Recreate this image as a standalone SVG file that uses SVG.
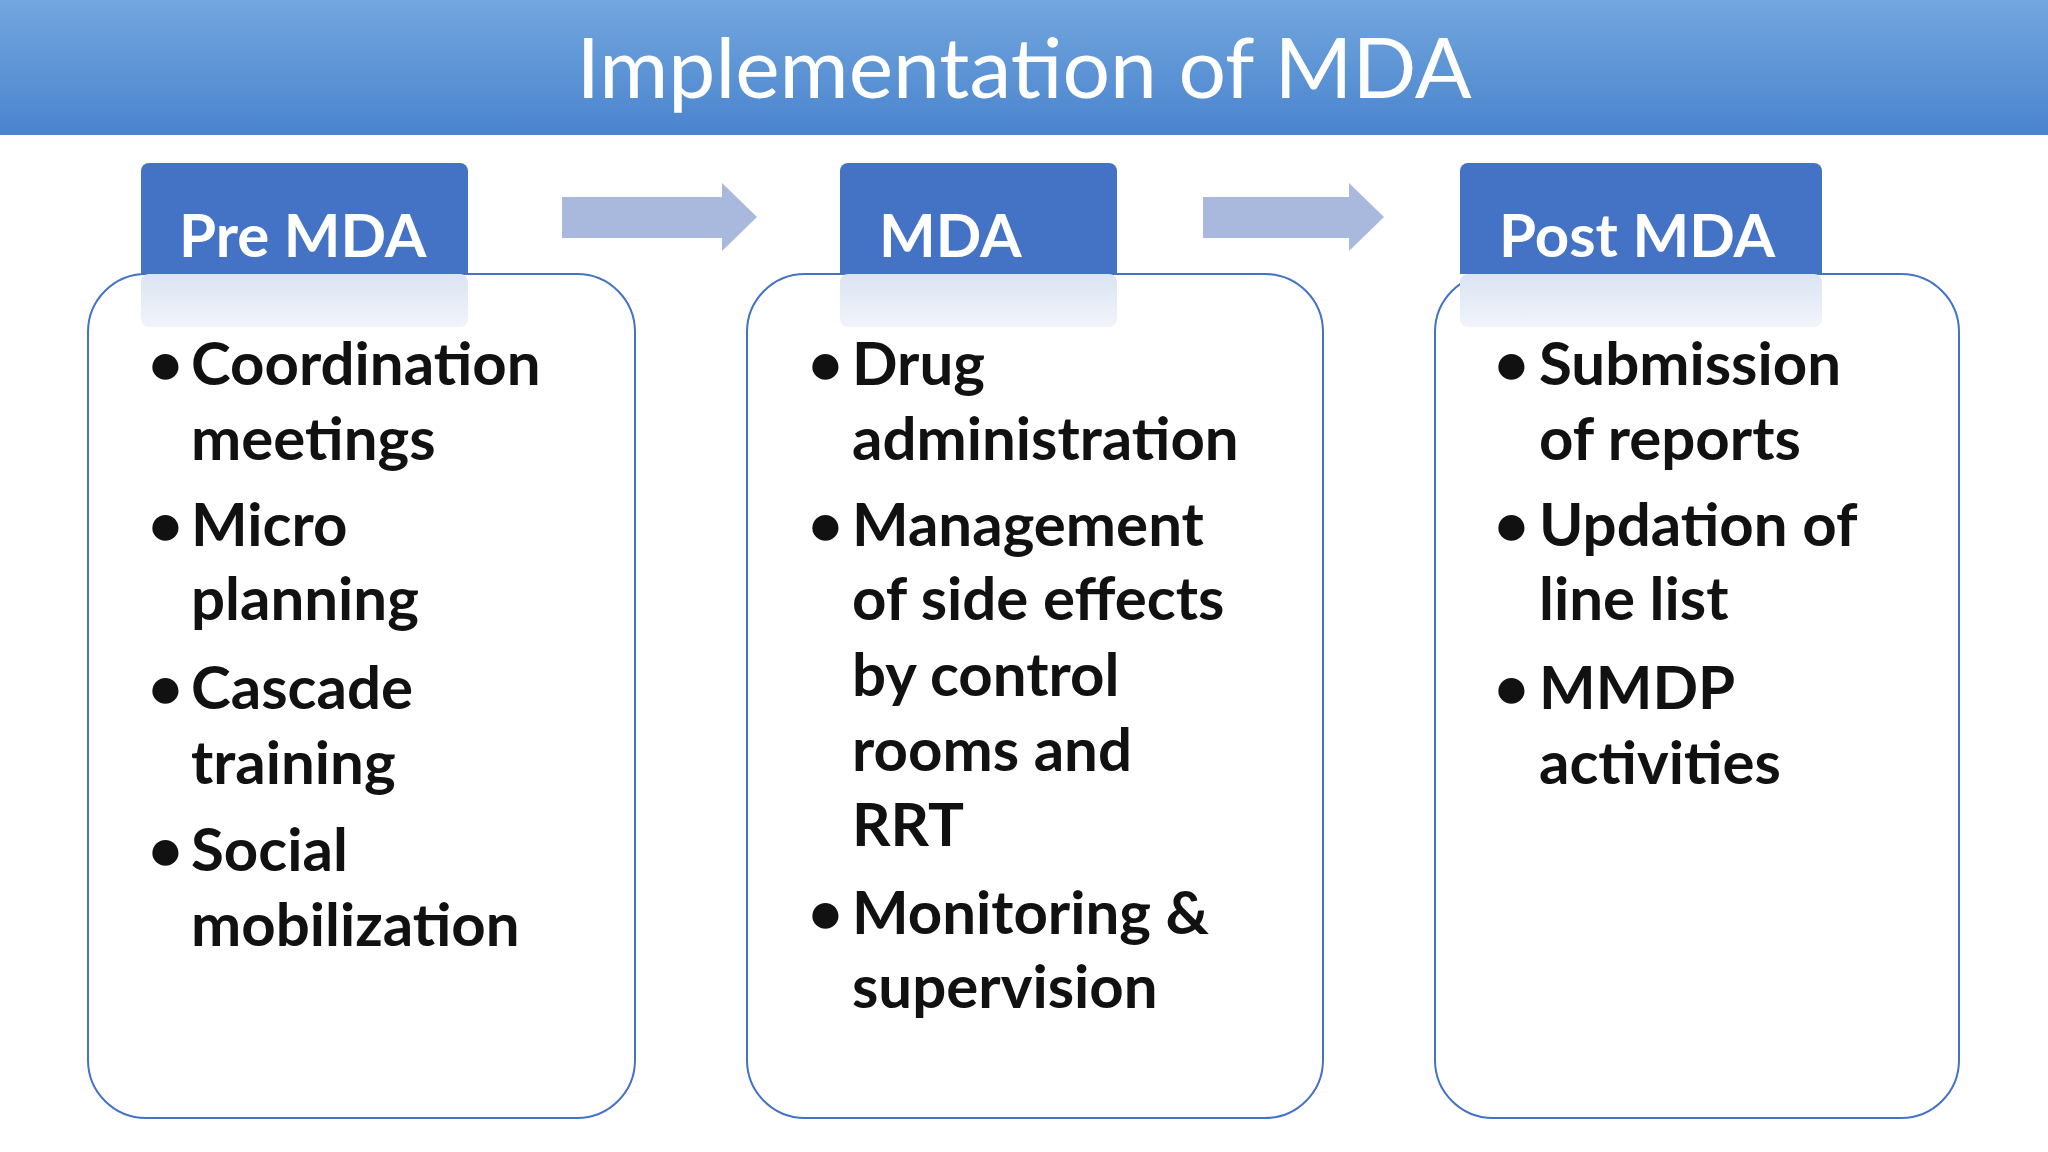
<svg xmlns="http://www.w3.org/2000/svg" width="2048" height="1152" viewBox="0 0 2048 1152">
<defs>
<linearGradient id="hdr" x1="0" y1="0" x2="0" y2="1"><stop offset="0" stop-color="#72a6de"/><stop offset="1" stop-color="#4a84cd"/></linearGradient>
<linearGradient id="tabfade" x1="0" y1="0" x2="0" y2="1"><stop offset="0" stop-color="#dbe4f3"/><stop offset="1" stop-color="#f1f4fa"/></linearGradient>
<style>
.box{fill:#fff;stroke:#4472c4;stroke-width:2}
.tab{fill:#4472c4}
.tt{font-family:Lato,"Open Sans",sans-serif;font-weight:bold;font-size:60px;fill:#fff}
.b{font-family:Lato,"Open Sans",sans-serif;font-weight:bold;font-size:60px;fill:#111}
.arr{fill:#a9b9de}
</style>
</defs>
<rect width="2048" height="1152" fill="#fff"/>
<rect width="2048" height="135" fill="url(#hdr)"/>
<text x="1024" y="98" text-anchor="middle" font-family="Lato,'Open Sans',sans-serif" font-size="84" fill="#fff">Implementation of MDA</text>
<g id="connectors">
<polygon class="arr" points="562,197 722,197 722,183 757,217 722,251 722,238 562,238"/>
<polygon class="arr" points="1203,197 1349,197 1349,183 1384,217 1349,251 1349,238 1203,238"/>
</g>
<g id="pre">
<rect class="box" x="88" y="274" width="547" height="844" rx="58"/>
<rect x="141" y="274" width="327" height="53" rx="8" fill="url(#tabfade)"/>
<path class="tab" d="M149,163 H460 a8,8 0 0 1 8,8 V274 H141 V171 a8,8 0 0 1 8,-8 Z"/>
<text class="tt" x="179" y="257">Pre MDA</text>
<text class="b"><tspan x="148" y="385">•</tspan><tspan x="191" y="385">Coordination</tspan><tspan x="191" y="460">meetings</tspan><tspan x="148" y="546">•</tspan><tspan x="191" y="546">Micro</tspan><tspan x="191" y="620">planning</tspan><tspan x="148" y="709">•</tspan><tspan x="191" y="709">Cascade</tspan><tspan x="191" y="784">training</tspan><tspan x="148" y="871">•</tspan><tspan x="191" y="871">Social</tspan><tspan x="191" y="946">mobilization</tspan></text>
</g>
<g id="mda">
<rect class="box" x="747" y="274" width="576" height="844" rx="58"/>
<rect x="840" y="274" width="277" height="53" rx="8" fill="url(#tabfade)"/>
<path class="tab" d="M848,163 H1109 a8,8 0 0 1 8,8 V274 H840 V171 a8,8 0 0 1 8,-8 Z"/>
<text class="tt" x="879" y="257">MDA</text>
<text class="b"><tspan x="808" y="385">•</tspan><tspan x="852" y="385">Drug</tspan><tspan x="852" y="460">administration</tspan><tspan x="808" y="546">•</tspan><tspan x="852" y="546">Management</tspan><tspan x="852" y="620">of side effects</tspan><tspan x="852" y="696">by control</tspan><tspan x="852" y="771">rooms and</tspan><tspan x="852" y="846">RRT</tspan><tspan x="808" y="934">•</tspan><tspan x="852" y="934">Monitoring &amp;</tspan><tspan x="852" y="1008">supervision</tspan></text>
</g>
<g id="post">
<rect class="box" x="1435" y="274" width="524" height="844" rx="58"/>
<rect x="1460" y="274" width="362" height="53" rx="8" fill="url(#tabfade)"/>
<path class="tab" d="M1468,163 H1814 a8,8 0 0 1 8,8 V274 H1460 V171 a8,8 0 0 1 8,-8 Z"/>
<text class="tt" x="1499" y="257">Post MDA</text>
<text class="b"><tspan x="1494" y="385">•</tspan><tspan x="1539" y="385">Submission</tspan><tspan x="1539" y="460">of reports</tspan><tspan x="1494" y="546">•</tspan><tspan x="1539" y="546">Updation of</tspan><tspan x="1539" y="620">line list</tspan><tspan x="1494" y="709">•</tspan><tspan x="1539" y="709">MMDP</tspan><tspan x="1539" y="784">activities</tspan></text>
</g>
</svg>
